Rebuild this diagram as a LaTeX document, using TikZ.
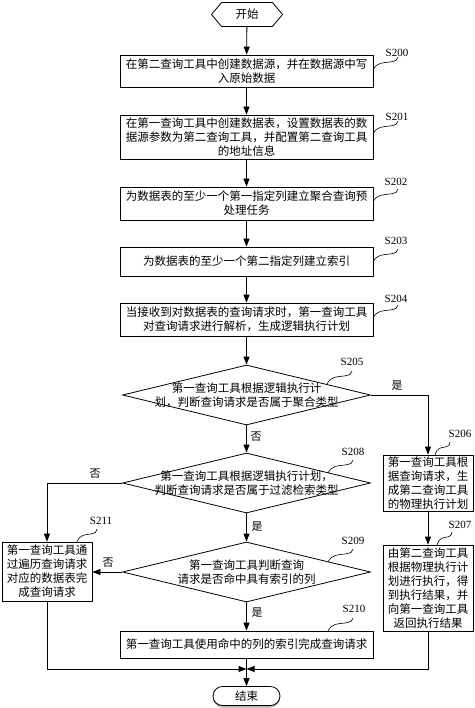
\documentclass[tikz,border=0pt]{standalone}
\usepackage{fontspec}
\setmainfont{Liberation Serif}
\newfontfamily\cjk{Noto Sans CJK SC}
\usetikzlibrary{arrows.meta,shapes.geometric,shapes.symbols,shapes.misc,shadows}
\begin{document}
\begin{tikzpicture}[x=1pt,y=-1pt,line width=0.8pt,
  cjkfont/.style={font=\cjk\fontsize{11.5}{14}\selectfont},
  box/.style={draw,rectangle,inner sep=0pt,align=center,cjkfont},
  wide/.style={box,minimum width=253pt},
  narrow/.style={box,minimum width=90pt},
  dia/.style={draw,diamond,inner sep=0pt,minimum width=248pt,minimum height=60pt},
  dtxt/.style={align=center,inner sep=0pt,cjkfont},
  arr/.style={-{Triangle[length=8pt,width=6pt]}},
  steplbl/.style={font=\fontsize{11}{13}\selectfont,inner sep=0pt},
  yn/.style={font=\cjk\fontsize{11}{13}\selectfont,inner sep=0pt},
  squig/.pic={\draw[line width=0.6pt] (0,0) .. controls (4,-8) and (10,-7) .. (17,-8) .. controls (23,-9) and (25,-10) .. (25,-13);}
]
\useasboundingbox (0,0) rectangle (474,708);

% terminals
\node[draw,signal,signal to=west and east,signal pointer angle=100,minimum width=71pt,minimum height=24pt,inner sep=0pt,cjkfont] (start) at (247,14.5) {开始};
\node[draw,rounded rectangle,minimum width=67pt,minimum height=19pt,inner sep=0pt,cjkfont,fill=white,
  drop shadow={shadow xshift=0pt,shadow yshift=-2pt,fill=gray!60,opacity=1}] (end) at (246.5,696) {结束};

% process boxes
\node[wide,minimum height=32pt] (s200) at (246.5,71) {在第二查询工具中创建数据源，并在数据源中写\\入原始数据};
\node[wide,minimum height=44pt] (s201) at (246.5,137) {在第一查询工具中创建数据表，设置数据表的数\\据源参数为第二查询工具，并配置第二查询工具\\的地址信息};
\node[wide,minimum height=33pt] (s202) at (246.5,203.5) {为数据表的至少一个第一指定列建立聚合查询预\\处理任务};
\node[wide,minimum height=29pt] (s203) at (246.5,261.5) {为数据表的至少一个第二指定列建立索引};
\node[wide,minimum height=33pt] (s204) at (246.5,319.5) {当接收到对数据表的查询请求时，第一查询工具\\对查询请求进行解析，生成逻辑执行计划};

% decisions
\node[dia] (d5) at (246.5,395) {};
\node[dtxt] at (d5) {第一查询工具根据逻辑执行计\\划，判断查询请求是否属于聚合类型};
\node[dia] (d8) at (246.5,483) {};
\node[dtxt] at (d8) {第一查询工具根据逻辑执行计划，\\判断查询请求是否属于过滤检索类型};
\node[dia] (d9) at (246.5,572) {};
\node[dtxt] at (d9) {第一查询工具判断查询\\请求是否命中具有索引的列};

\node[narrow,minimum height=56pt] (s206) at (428,483) {第一查询工具根\\据查询请求，生\\成第二查询工具\\的物理执行计划};
\node[narrow,minimum height=86pt] (s207) at (428,588) {由第二查询工具\\根据物理执行计\\划进行执行，得\\到执行结果，并\\向第一查询工具\\返回执行结果};
\node[narrow,minimum height=59pt] (s211) at (47,571.5) {第一查询工具通\\过遍历查询请求\\对应的数据表完\\成查询请求};
\node[wide,minimum height=27pt] (s210) at (246.5,644.5) {第一查询工具使用命中的列的索引完成查询请求};

% connectors
\draw[arr] (start) -- (s200);
\draw[arr] (s200) -- (s201);
\draw[arr] (s201) -- (s202);
\draw[arr] (s202) -- (s203);
\draw[arr] (s203) -- (s204);
\draw[arr] (s204) -- (d5);
\draw[arr] (d5.south) -- (d8.north);
\draw[arr] (d5.east) -| (s206.north);
\draw[arr] (s206) -- (s207);
\draw[arr] (d8.west) -| (s211.north);
\draw[arr] (d8.south) -- (d9.north);
\draw[arr] (d9.west) -- (d9.west -| s211.east);
\draw[arr] (d9.south) -- (s210.north);
\coordinate (m) at (246.5,669);
\draw[arr] (s211.south) |- (m);
\draw[arr] (s207.south) |- (m);
\draw[arr] (s210.south) -- (end.north);

% yes / no labels
\node[yn] (n5) at (256,437) {否};
\node[yn] (y5) at (397,386) {是};
\node[yn] (n8) at (95,474) {否};
\node[yn] (y8) at (257,527) {是};
\node[yn] (n9) at (108,563) {否};
\node[yn] (y9) at (257,613) {是};

% step labels with leaders
\pic at (373,70) {squig};  \node[steplbl] (l200) at (397,53) {S200};
\pic at (373,134) {squig}; \node[steplbl] (l201) at (397,117) {S201};
\pic at (373,202) {squig}; \node[steplbl] (l202) at (396,182) {S202};
\pic at (373,262) {squig}; \node[steplbl] (l203) at (396,241) {S203};
\pic at (373,318) {squig}; \node[steplbl] (l204) at (396,299) {S204};
\pic at (327,384) {squig}; \node[steplbl] (l205) at (352,362) {S205};
\pic[xscale=0.6] at (435,455) {squig}; \node[steplbl] (l206) at (460,434) {S206};
\pic[xscale=0.6] at (437,545) {squig}; \node[steplbl] (l207) at (460,525) {S207};
\pic at (328,473) {squig}; \node[steplbl] (l208) at (353,452) {S208};
\pic at (328,562) {squig}; \node[steplbl] (l209) at (353,541) {S209};
\pic at (328,631) {squig}; \node[steplbl] (l210) at (354,609) {S210};
\pic[xscale=0.8] at (77,542) {squig}; \node[steplbl] (l211) at (101,521) {S211};
\end{tikzpicture}
\end{document}
